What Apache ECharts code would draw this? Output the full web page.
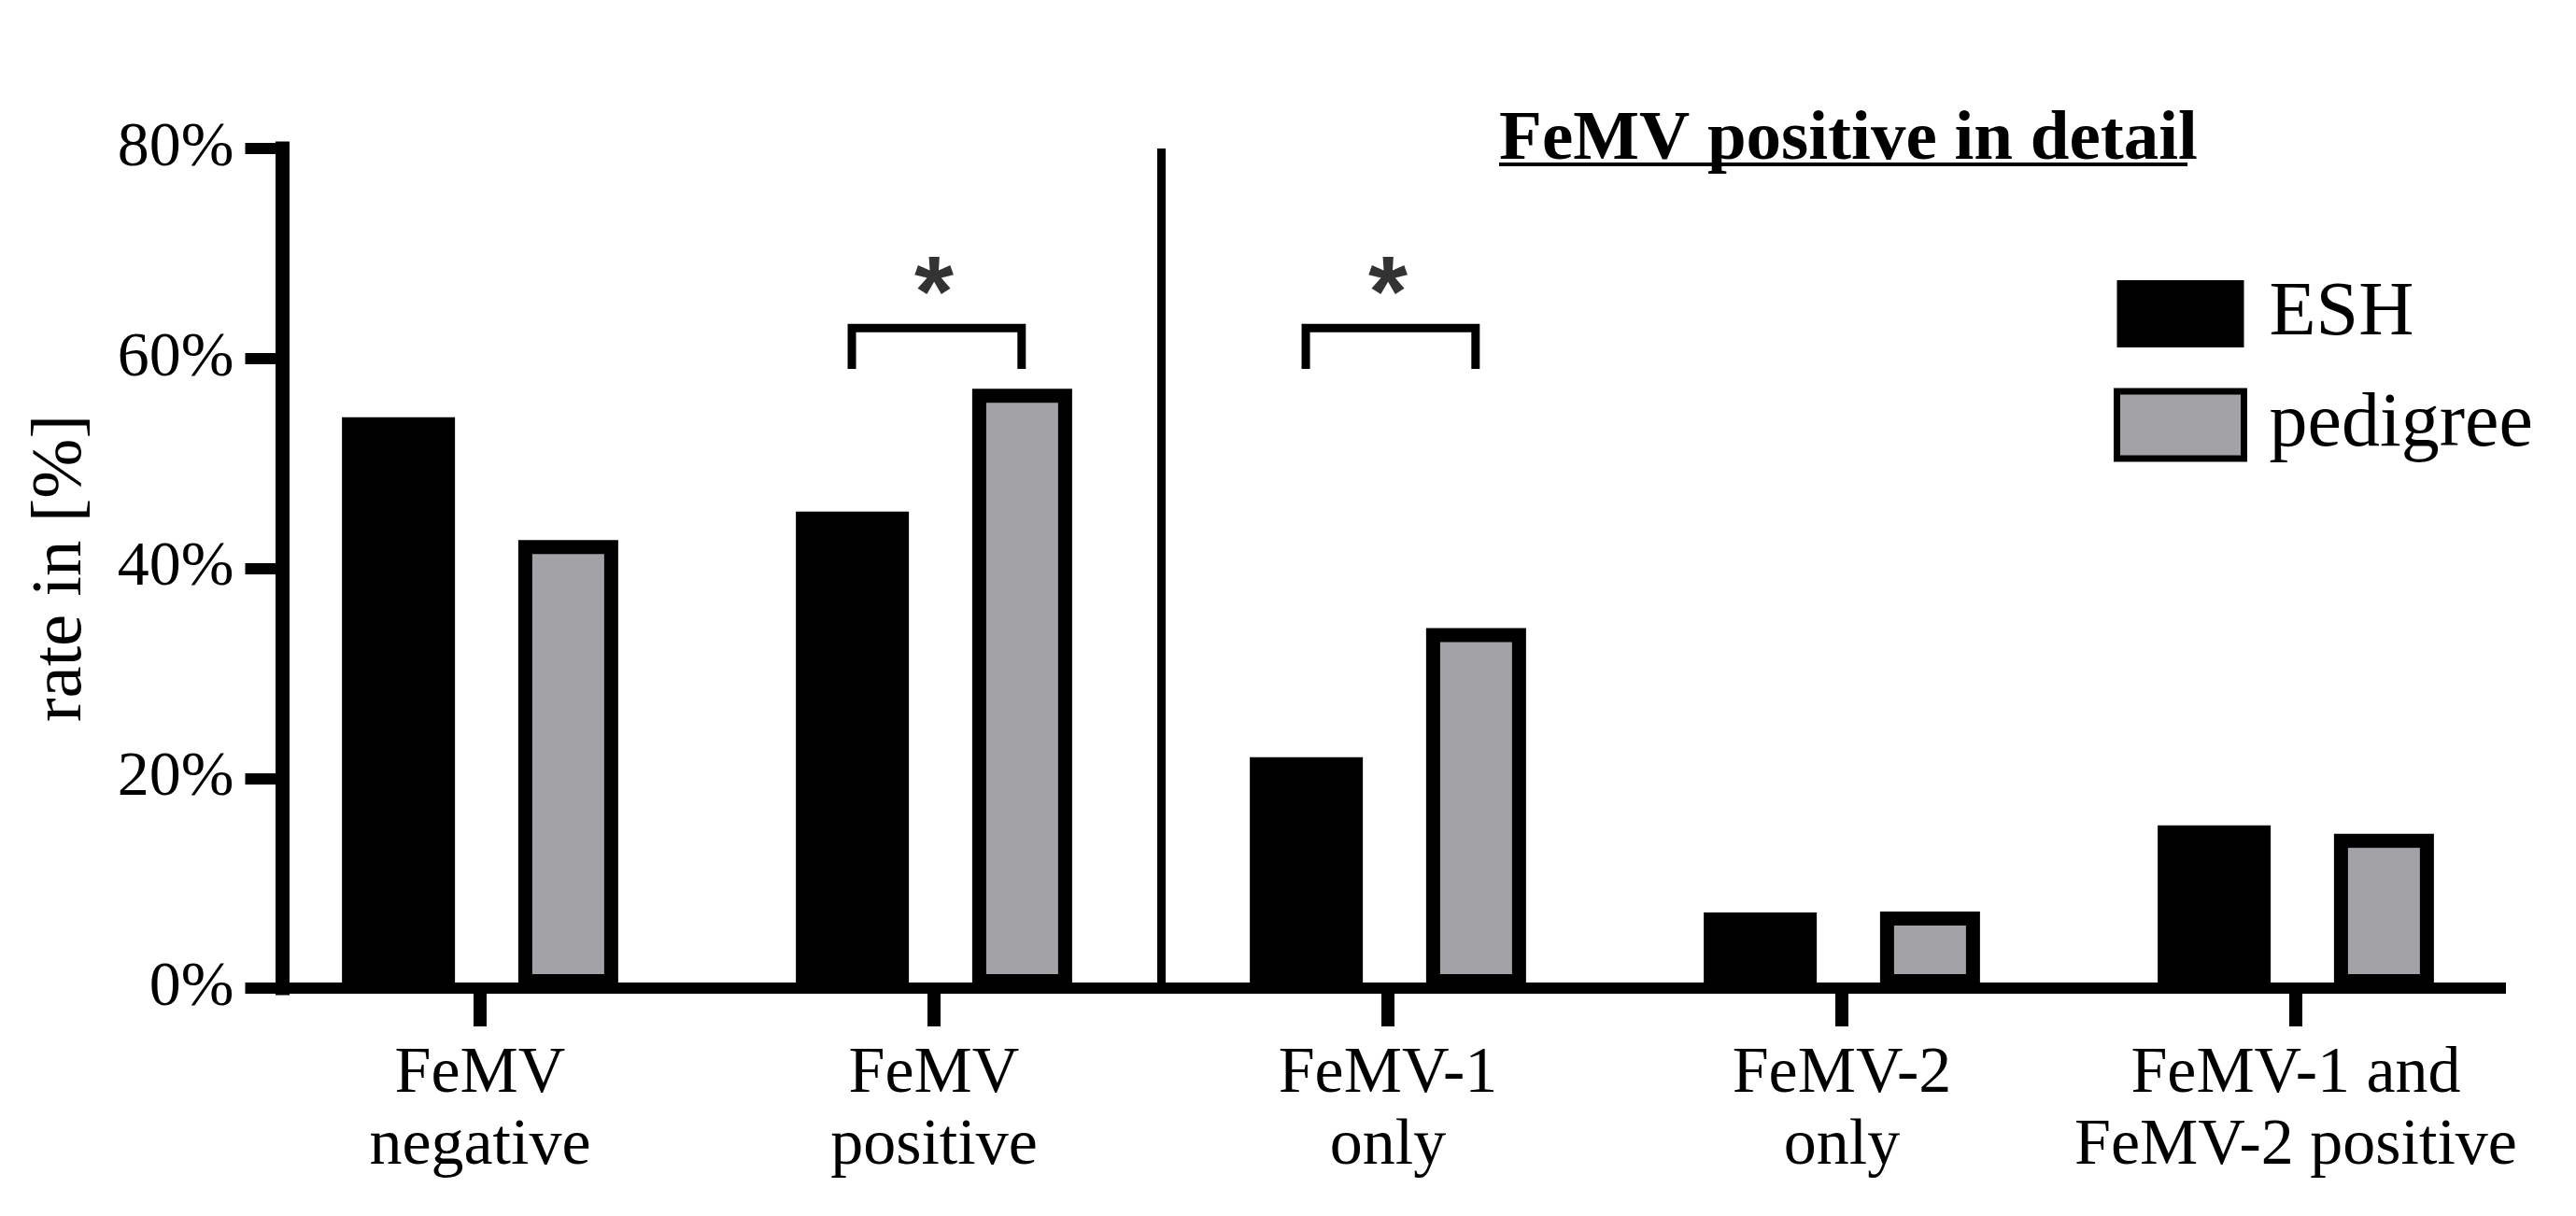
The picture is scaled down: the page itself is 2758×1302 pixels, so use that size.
<!DOCTYPE html>
<html>
<head>
<meta charset="utf-8">
<script src="https://cdn.jsdelivr.net/npm/echarts@6/dist/echarts.min.js"></script>
<style>
html,body{margin:0;padding:0;background:#fff;}
#chart{width:2758px;height:1302px;}
</style>
</head>
<body>
<div id="chart"></div>
<script>
// ---- data ----
const categories = ['FeMV\nnegative', 'FeMV\npositive', 'FeMV-1\nonly', 'FeMV-2\nonly', 'FeMV-1 and\nFeMV-2 positive'];
const seriesNames = ['ESH', 'pedigree'];
const eshValues = [54.4, 45.4, 22.0, 7.2, 15.5];
const pedigreeValues = [42.7, 57.1, 34.3, 7.3, 14.7];
const yTicks = [0, 20, 40, 60, 80];
const sigCategories = [1, 2];          // category index of each significance bracket
const sigTop = [62.9, 62.9];           // bracket top (value units)
const sigFoot = [59.0, 59.0];          // bracket leg end (value units)
const sigStar = [67.9, 67.9];          // star position (value units)
const sigLabels = ['*', '*'];
const panelDivider = 1.5;              // divider between overall and detail panels
const titleText = 'FeMV positive in detail';
const yAxisName = 'rate in [%]';

// ---- style ----
const SERIF = "'Liberation Serif','Times New Roman',serif";
const GREY = '#a3a2a7';
const armLeft = -0.181, armRight = 0.193;

const chart = echarts.init(document.getElementById('chart'), null, {renderer: 'canvas'});

const bracketSeries = sigCategories.map((c, i) => ({
  type: 'line',
  xAxisIndex: 1, yAxisIndex: 1,
  symbol: 'none',
  silent: true,
  lineStyle: {color: '#000', width: 9, join: 'miter', cap: 'butt'},
  data: [[c + armLeft, sigFoot[i]], [c + armLeft, sigTop[i]], [c + armRight, sigTop[i]], [c + armRight, sigFoot[i]]],
  z: 5,
  markLine: i === 0 ? {
    silent: true,
    symbol: ['none', 'none'],
    label: {show: false},
    lineStyle: {color: '#000', width: 9, type: 'solid'},
    data: [{xAxis: panelDivider}]
  } : undefined
}));

const option = {
  animation: false,
  backgroundColor: '#fff',
  title: {
    text: titleText,
    left: 1974,
    top: 108,
    textAlign: 'center',
    textStyle: {fontFamily: SERIF, fontSize: 75, fontWeight: 'bold', color: '#000'}
  },
  legend: {
    orient: 'vertical',
    left: 2258,
    top: 290,
    itemWidth: 136,
    itemHeight: 72,
    itemGap: 37,
    icon: 'rect',
    selectedMode: false,
    textStyle: {fontFamily: SERIF, fontSize: 82, color: '#000', padding: [0, 0, 0, 22]},
    data: [
      {name: seriesNames[0], itemStyle: {color: '#000', borderWidth: 0}},
      {name: seriesNames[1], itemStyle: {color: GREY, borderColor: '#000', borderWidth: 7}}
    ]
  },
  grid: [
    {left: 271, right: 57, top: 159, bottom: 244},
    {left: 302.5, right: 81, top: 159, bottom: 244}
  ],
  xAxis: [
    {
      type: 'category', gridIndex: 0, data: categories,
      axisLine: {show: false},
      axisTick: {show: true, alignWithLabel: true, interval: 0, length: 41, lineStyle: {color: '#000', width: 14}},
      axisLabel: {interval: 0, margin: 54, fontFamily: SERIF, fontSize: 70, lineHeight: 77, color: '#000'},
      splitLine: {show: false}
    },
    {
      type: 'value', gridIndex: 1, min: -0.4352, max: 4.4506, z: 10,
      axisLine: {show: true, onZero: false, lineStyle: {color: '#000', width: 12, cap: 'square'}},
      axisTick: {show: false}, axisLabel: {show: false}, splitLine: {show: false}
    }
  ],
  yAxis: [
    {type: 'value', gridIndex: 0, min: yTicks[0], max: yTicks[yTicks.length - 1], show: false},
    {
      type: 'value', gridIndex: 1, min: yTicks[0], max: yTicks[yTicks.length - 1], interval: yTicks[1] - yTicks[0], z: 10,
      axisLine: {show: true, onZero: false, lineStyle: {color: '#000', width: 15, cap: 'square'}},
      axisTick: {show: true, length: 40, lineStyle: {color: '#000', width: 12}},
      axisLabel: {formatter: '{value}%', margin: 52, fontFamily: SERIF, fontSize: 68, color: '#000'},
      splitLine: {show: false},
      name: yAxisName, nameLocation: 'middle', nameGap: 198,
      nameTextStyle: {fontFamily: SERIF, fontSize: 77, color: '#000'}
    }
  ],
  series: [
    {
      name: seriesNames[0], type: 'bar', xAxisIndex: 0, yAxisIndex: 0,
      data: eshValues, barWidth: 121, barGap: '56%',
      itemStyle: {color: '#000'}
    },
    {
      name: seriesNames[1], type: 'bar', xAxisIndex: 0, yAxisIndex: 0,
      data: pedigreeValues, barWidth: 107, barGap: '56%',
      itemStyle: {color: GREY, borderColor: '#000', borderWidth: 15}
    },
    ...bracketSeries,
    {
      type: 'scatter', xAxisIndex: 1, yAxisIndex: 1, silent: true,
      symbolSize: 1, itemStyle: {color: 'rgba(0,0,0,0)'},
      data: sigCategories.map((c, i) => ({value: [c, sigStar[i]], label: {formatter: sigLabels[i]}})),
      label: {show: true, position: 'inside', offset: [0, 24], fontFamily: "'Liberation Sans',Arial,sans-serif", fontWeight: 'bold', fontSize: 108, color: '#000', textBorderWidth: 0},
      z: 6
    }
  ],
  graphic: [
    {type: 'line', shape: {x1: 1605, y1: 176, x2: 2342, y2: 176}, style: {stroke: '#000', lineWidth: 4}, silent: true}
  ]
};
chart.setOption(option);
</script>
</body>
</html>
